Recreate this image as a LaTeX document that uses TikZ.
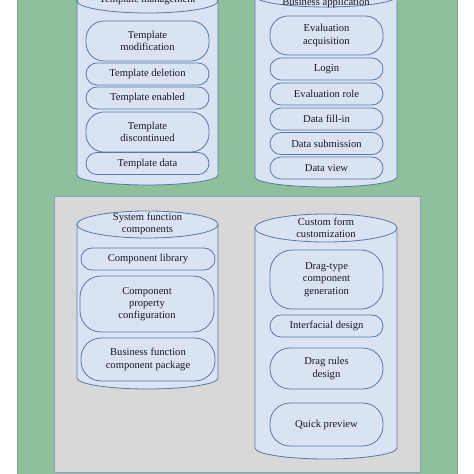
\documentclass[tikz,border=0pt]{standalone}
\usepackage{fontspec}
\setmainfont{Liberation Serif}
\usetikzlibrary{positioning}
\definecolor{bggreen}{RGB}{141,192,155}
\definecolor{panelgray}{RGB}{216,216,216}
\definecolor{cylfill}{RGB}{218,227,243}
\definecolor{cylline}{RGB}{90,120,165}
\definecolor{inktext}{RGB}{25,25,35}
\tikzset{every node/.style={align=center,
    font=\fontsize{10.6}{12.2}\selectfont,
    text=inktext},
  cyl/.style={ % body and lid of each store
    fill=cylfill, draw=cylline, line width=0.8pt},
  item/.style={ % one entry inside a store
    draw=cylline, fill=cylfill, line width=0.8pt,
    rounded corners=11pt, minimum height=22pt, inner sep=0pt},
  tallitem/.style={item, rounded corners=18pt}}

\begin{document}
\begin{tikzpicture}[x=1pt, y=1pt]
  \path[use as bounding box, clip] (0,0) rectangle (474,474);
  \fill[white] (0,0) rectangle (474,474);
  \filldraw[fill=bggreen, draw=bggreen!85!black, thin] (17,-1) rectangle (457,475);
  \filldraw[fill=panelgray, draw=cylline!70, thin] (54,2) rectangle (420,278);

  % the four stores
  \foreach \cx/\rx/\yt/\ryt/\yb/\ryb in {147.5/70.5/473/12/299/10,
      326/71/478/11/297/10, 147.5/70.5/249.5/13.5/96/11, 326/71/246/14/26/11}{
    \filldraw[cyl] (\cx-\rx,\yt) -- (\cx-\rx,\yb)
      arc[start angle=180, end angle=360, x radius=\rx pt, y radius=\ryb pt]
      -- (\cx+\rx,\yt) -- cycle;
    \filldraw[cyl] (\cx,\yt) ellipse[x radius=\rx pt, y radius=\ryt pt];
  }

  \node (tmTitle) at (147.5,474) {Template management};
  \node (baTitle) at (326,471) {Business application};
  \node (sfTitle) at (147.5,250) {System function\\components};
  \node (cfTitle) at (326,246) {Custom form\\customization};

  % template management
  \node[tallitem, minimum width=123pt, minimum height=40pt] (tmModify) at (147.5,433) {Template\\modification};
  \node[item, minimum width=123pt] (tmDelete) at (147.5,400) {Template deletion};
  \node[item, minimum width=123pt] (tmEnable) at (147.5,376) {Template enabled};
  \node[tallitem, minimum width=123pt, minimum height=40pt] (tmStop) at (147.5,342) {Template\\discontinued};
  \node[item, minimum width=123pt] (tmData) at (147.5,310.5) {Template data};

  % business application
  \node[tallitem, minimum width=113pt, minimum height=39pt] (baAcquire) at (326.5,438.5) {Evaluation\\acquisition};
  \node[item, minimum width=113pt] (baLogin) at (326.5,405) {Login};
  \node[item, minimum width=113pt] (baRole) at (326.5,380) {Evaluation role};
  \node[item, minimum width=113pt] (baFill) at (326.5,355) {Data fill-in};
  \node[item, minimum width=113pt] (baSubmit) at (326.5,330.5) {Data submission};
  \node[item, minimum width=113pt] (baView) at (326.5,306) {Data view};

  % system function components
  \node[item, minimum width=134pt] (sfLibrary) at (148,215) {Component library};
  \node[tallitem, rounded corners=21pt, minimum width=134pt, minimum height=56pt] (sfProperty) at (147,170) {Component\\property\\configuration};
  \node[tallitem, rounded corners=20pt, minimum width=134pt, minimum height=43pt] (sfPackage) at (148,114.5) {Business function\\component package};

  % custom form customization
  \node[tallitem, rounded corners=22pt, minimum width=113pt, minimum height=59pt] (cfGenerate) at (326.5,194.5) {Drag-type\\component\\generation};
  \node[item, minimum width=113pt] (cfInterface) at (326.5,148) {Interfacial design};
  \node[tallitem, rounded corners=20pt, minimum width=113pt, minimum height=41pt] (cfRules) at (326.5,105.5) {Drag rules\\design};
  \node[tallitem, rounded corners=20pt, minimum width=113pt, minimum height=43pt] (cfPreview) at (326.5,49.5) {Quick preview};
\end{tikzpicture}
\end{document}
